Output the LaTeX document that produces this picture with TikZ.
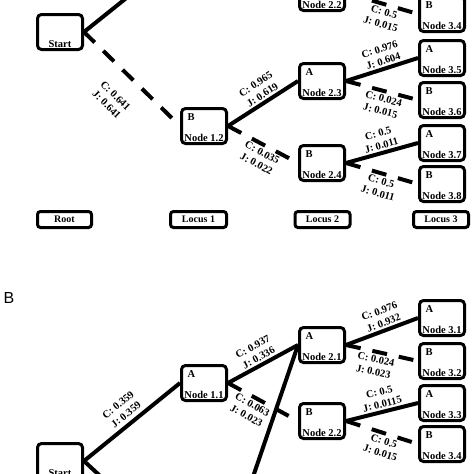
\documentclass[tikz,border=0pt]{standalone}
\usepackage{fontspec}
\setmainfont{Liberation Serif}
\newfontfamily\panelfont{Liberation Sans}
\newcommand{\boxtext}[2]{\parbox[c][32pt][s]{44pt}{\vspace*{3.5pt}\hspace*{5.5pt}#1\par\vfill\centering\mbox{#2}}}

\begin{document}
\begin{tikzpicture}[x=1pt,y=-1pt,
  tnode/.style={draw,line width=3pt,rounded corners=4pt,minimum width=45pt,minimum height=35pt,inner sep=0pt,font=\bfseries\fontsize{10.5}{12}\selectfont},
  lbox/.style={draw,line width=3pt,rounded corners=3pt,minimum height=16pt,inner sep=0pt,font=\bfseries\fontsize{10}{12}\selectfont},
  strong/.style={line width=4pt},
  weak/.style={line width=4pt,dash pattern=on 15pt off 12pt},
  elab/.style={sloped,align=center,inner sep=2pt,font=\bfseries\fontsize{10.5}{12.5}\selectfont}]
\useasboundingbox (0,0) rectangle (474,474);

% panel A
\node[tnode] (sa) at (60,32) {\boxtext{}{Start}};
\node[tnode] (a12) at (204,126) {\boxtext{B}{Node 1.2}};
\node[tnode] (a22) at (322,-7) {\boxtext{B}{Node 2.2}};
\node[tnode] (a23) at (322,81) {\boxtext{A}{Node 2.3}};
\node[tnode] (a24) at (322,163) {\boxtext{B}{Node 2.4}};
\node[tnode] (a34) at (442,14) {\boxtext{B}{Node 3.4}};
\node[tnode] (a35) at (442,58) {\boxtext{A}{Node 3.5}};
\node[tnode] (a36) at (442,100) {\boxtext{B}{Node 3.6}};
\node[tnode] (a37) at (442,143) {\boxtext{A}{Node 3.7}};
\node[tnode] (a38) at (442,184) {\boxtext{B}{Node 3.8}};
\coordinate (a11w) at (180,-45);

\node[lbox,minimum width=54pt] (root) at (64.5,219.5) {Root};
\node[lbox,minimum width=56pt] (loc1) at (198.5,219.5) {Locus 1};
\node[lbox,minimum width=55pt] (loc2) at (322.5,219.5) {Locus 2};
\node[lbox,minimum width=55pt] (loc3) at (441,219.5) {Locus 3};

\draw[strong] (sa.east) -- (a11w);
\draw[weak] (sa.east) -- node[elab,below=16pt,pos=0.5] {C: 0.641\\J: 0.641} (a12.west);
\draw[strong] (a12.east) -- node[elab,above,pos=0.55] {C: 0.965\\J: 0.619} (a23.west);
\draw[weak] (a12.east) -- node[elab,below,pos=0.54] {C: 0.035\\J: 0.022} (a24.west);
\draw[weak] (a22.east) -- node[elab,below,pos=0.56] {C: 0.5\\J: 0.015} (a34.west);
\draw[strong] (a23.east) -- node[elab,above,pos=0.55] {C: 0.976\\J: 0.604} (a35.west);
\draw[weak] (a23.east) -- node[elab,below,pos=0.55] {C: 0.024\\J: 0.015} (a36.west);
\draw[strong] (a24.east) -- node[elab,above,pos=0.52] {C: 0.5\\J: 0.011} (a37.west);
\draw[weak] (a24.east) -- node[elab,below,pos=0.52] {C: 0.5\\J: 0.011} (a38.west);

% panel B
\node[font=\panelfont\fontsize{16}{18}\selectfont] (tagb) at (9,298) {B};
\node[tnode] (sb) at (60,461) {\boxtext{}{Start}};
\node[tnode] (b11) at (204,383) {\boxtext{A}{Node 1.1}};
\node[tnode] (b21) at (322,345) {\boxtext{A}{Node 2.1}};
\node[tnode] (b22) at (322,421) {\boxtext{B}{Node 2.2}};
\node[tnode] (b31) at (442,318) {\boxtext{A}{Node 3.1}};
\node[tnode] (b32) at (442,361) {\boxtext{B}{Node 3.2}};
\node[tnode] (b33) at (442,403) {\boxtext{A}{Node 3.3}};
\node[tnode] (b34) at (442,444) {\boxtext{B}{Node 3.4}};
\coordinate (b12w) at (180,550);
\coordinate (b12e) at (228,550);

\draw[strong] (sb.east) -- node[elab,above=2pt,pos=0.5] {C: 0.359\\J: 0.359} (b11.west);
\draw[strong] (sb.east) -- (b12w);
\draw[strong] (b12e) -- (b21.west);
\draw[strong] (b11.east) -- node[elab,above,pos=0.49] {C: 0.937\\J: 0.336} (b21.west);
\draw[weak] (b11.east) -- node[elab,below,pos=0.4] {C: 0.063\\J: 0.023} (b22.west);
\draw[strong] (b21.east) -- node[elab,above,pos=0.56] {C: 0.976\\J: 0.932} (b31.west);
\draw[weak] (b21.east) -- node[elab,below,pos=0.44] {C: 0.024\\J: 0.023} (b32.west);
\draw[strong] (b22.east) -- node[elab,above,pos=0.53] {C: 0.5\\J: 0.0115} (b33.west);
\draw[weak] (b22.east) -- node[elab,below,pos=0.56] {C: 0.5\\J: 0.015} (b34.west);
\end{tikzpicture}
\end{document}
